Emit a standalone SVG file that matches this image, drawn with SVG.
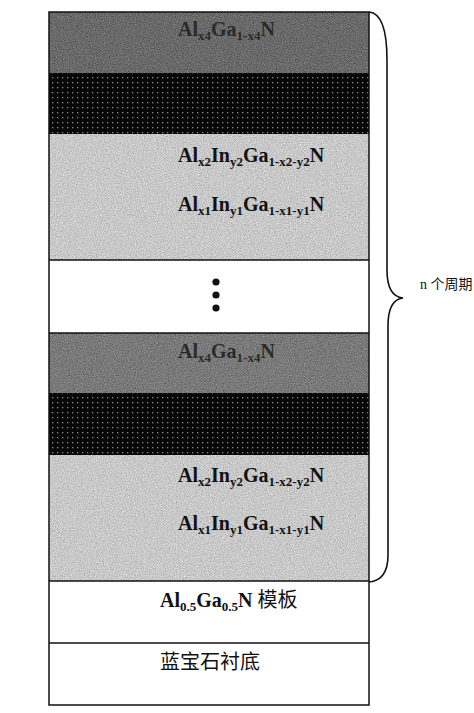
<svg xmlns="http://www.w3.org/2000/svg" width="474" height="713" viewBox="0 0 474 713">
<style>
.f{font-family:"Liberation Serif","Times New Roman",serif;font-weight:bold;font-size:20px;fill:#111}
.s{font-size:13px}
.cj{font-family:"Liberation Serif","Noto Sans CJK SC",serif;font-size:20px;font-weight:normal;fill:#111}
.faded{fill:#2a2a2a}
.edge{fill:none;stroke:#111;stroke-width:1.5}
.brace{fill:none;stroke:#111;stroke-width:1.6}
</style>
<defs>
<filter id="grain" x="0" y="0" width="1" height="1" color-interpolation-filters="sRGB">
<feTurbulence type="fractalNoise" baseFrequency="0.85" numOctaves="2" seed="7" result="n"/>
<feColorMatrix in="n" type="matrix" values="0.33 0.33 0.33 0 0 0.33 0.33 0.33 0 0 0.33 0.33 0.33 0 0 0 0 0 0 1" result="g"/>
<feComposite in="SourceGraphic" in2="g" operator="arithmetic" k1="0" k2="1" k3="0.6" k4="-0.3"/>
</filter>
<pattern id="dots" width="5" height="5" patternUnits="userSpaceOnUse">
<rect width="5" height="5" fill="#070707"/>
<rect x="2" y="2" width="1.3" height="1.3" fill="#8a8a8a"/>
</pattern>
</defs>

<g id="layer-top-AlGaN">
<rect x="49" y="12" width="320" height="61" fill="#6a6a6a" filter="url(#grain)"/>
<text class="f faded" x="178" y="36">Al<tspan class="s" dy="4">x4</tspan><tspan dy="-4">Ga</tspan><tspan class="s" dy="4">1-x4</tspan><tspan dy="-4">N</tspan></text>
</g>
<g id="layer-top-dark">
<rect x="49" y="73" width="320" height="61" fill="url(#dots)"/>
</g>
<g id="layer-top-light">
<rect x="49" y="134" width="320" height="126" fill="#c9c9c9" filter="url(#grain)"/>
<text class="f" x="178" y="162">Al<tspan class="s" dy="4">x2</tspan><tspan dy="-4">In</tspan><tspan class="s" dy="4">y2</tspan><tspan dy="-4">Ga</tspan><tspan class="s" dy="4">1-x2-y2</tspan><tspan dy="-4">N</tspan></text>
<text class="f" x="178" y="211">Al<tspan class="s" dy="4">x1</tspan><tspan dy="-4">In</tspan><tspan class="s" dy="4">y1</tspan><tspan dy="-4">Ga</tspan><tspan class="s" dy="4">1-x1-y1</tspan><tspan dy="-4">N</tspan></text>
</g>
<g id="layer-ellipsis">
<rect x="49" y="260" width="320" height="73" fill="#ffffff"/>
<circle cx="216" cy="282" r="3.6" fill="#111"/>
<circle cx="216" cy="295" r="3.6" fill="#111"/>
<circle cx="216" cy="308" r="3.6" fill="#111"/>
</g>
<g id="layer-bottom-AlGaN">
<rect x="49" y="333" width="320" height="60" fill="#7a7a7a" filter="url(#grain)"/>
<text class="f faded" x="178" y="358">Al<tspan class="s" dy="4">x4</tspan><tspan dy="-4">Ga</tspan><tspan class="s" dy="4">1-x4</tspan><tspan dy="-4">N</tspan></text>
</g>
<g id="layer-bottom-dark">
<rect x="49" y="393" width="320" height="62" fill="url(#dots)"/>
</g>
<g id="layer-bottom-light">
<rect x="49" y="455" width="320" height="126" fill="#c9c9c9" filter="url(#grain)"/>
<text class="f" x="178" y="482">Al<tspan class="s" dy="4">x2</tspan><tspan dy="-4">In</tspan><tspan class="s" dy="4">y2</tspan><tspan dy="-4">Ga</tspan><tspan class="s" dy="4">1-x2-y2</tspan><tspan dy="-4">N</tspan></text>
<text class="f" x="178" y="530">Al<tspan class="s" dy="4">x1</tspan><tspan dy="-4">In</tspan><tspan class="s" dy="4">y1</tspan><tspan dy="-4">Ga</tspan><tspan class="s" dy="4">1-x1-y1</tspan><tspan dy="-4">N</tspan></text>
</g>
<g id="layer-template">
<rect x="49" y="581" width="320" height="62" fill="#ffffff"/>
<text class="f" x="160" y="607">Al<tspan class="s" dy="4">0.5</tspan><tspan dy="-4">Ga</tspan><tspan class="s" dy="4">0.5</tspan><tspan dy="-4">N </tspan><tspan class="cj">模板</tspan></text>
</g>
<g id="layer-substrate">
<rect x="49" y="643" width="320" height="62" fill="#ffffff"/>
<text class="cj" x="160" y="669">蓝宝石衬底</text>
</g>

<g id="outlines">
<rect class="edge" x="49" y="12" width="320" height="693"/>
<line class="edge" x1="49" y1="260" x2="369" y2="260"/>
<line class="edge" x1="49" y1="333" x2="369" y2="333"/>
<line class="edge" x1="49" y1="581" x2="369" y2="581"/>
<line class="edge" x1="49" y1="643" x2="369" y2="643"/>
</g>

<g id="connectors">
<path class="brace" d="M369,12 C381,13 387,30 387,60 L387,270 C387,288 393,297 403,298 C393,299 388,308 388,326 L388,555 C388,572 381,581 369,582"/>
</g>
<g id="label-periods">
<text x="420" y="289" style="font-family:'Liberation Serif','Noto Sans CJK SC',serif;font-size:14px;fill:#111">n 个周期</text>
</g>
</svg>
